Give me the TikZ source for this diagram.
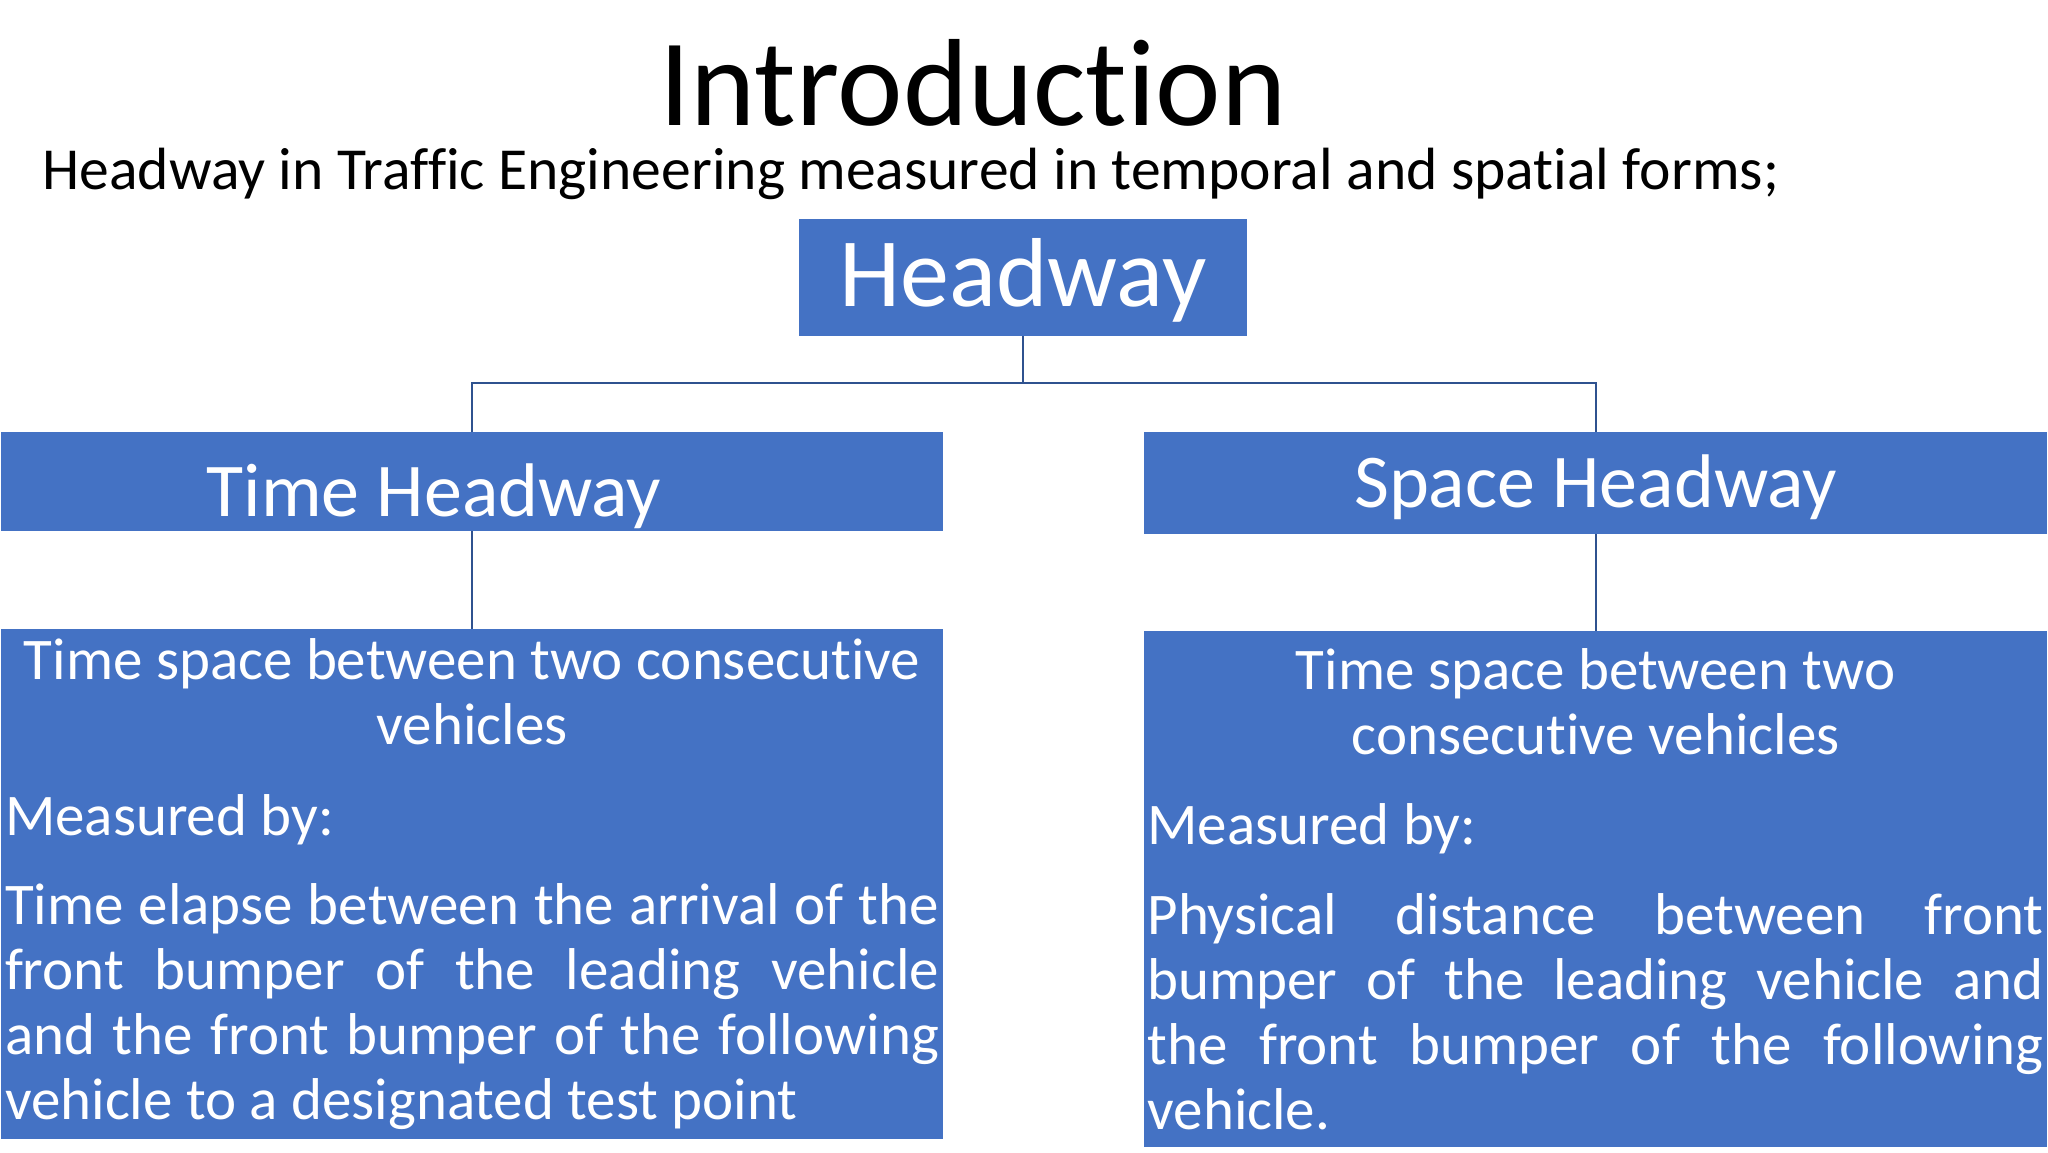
\documentclass[tikz,border=0pt]{standalone}
\usepackage{fontspec}
\setmainfont{Carlito}[Ligatures=NoCommon]
\definecolor{boxblue}{HTML}{4472C4}
\definecolor{lineblue}{HTML}{2F528F}

\begin{document}
\begin{tikzpicture} [
    x=0.5pt, y=-0.5pt,
    box/.style = {fill=boxblue, text=white, inner sep=0pt, outer sep=0pt},
    conn/.style = {lineblue, line width=1pt},
    desc/.style = {box, align=justify, font=\fontsize{29.5}{32.5}\selectfont,
        execute at begin node=\setlength{\parindent}{0pt}}
]
    \useasboundingbox (0,0) rectangle (2048,1152);

    \node[anchor=base, inner sep=0pt, font=\fontsize{62}{70}\selectfont] (title) at (973,125) {Introduction};
    \node[anchor=base west, inner sep=0pt, font=\fontsize{29.8}{35}\selectfont] (subtitle) at (42,189)
        {Headway in Traffic Engineering measured in temporal and spatial forms;};

    % top box and the two kinds
    \node[box, minimum width=224pt, minimum height=58.5pt, text height=35pt, text depth=6pt,
        font=\fontsize{49}{55}\selectfont] (headbox) at (1023,277.5) {Headway};
    \node[box, minimum width=471pt, minimum height=49.5pt, text height=40pt, text depth=5.5pt,
        font=\fontsize{38}{44}\selectfont] (timebox) at (472,481.5) {Time Headway\hspace*{38pt}};
    \node[box, minimum width=451.5pt, minimum height=51pt, text height=30pt, text depth=6pt,
        font=\fontsize{38}{44}\selectfont] (spacebox) at (1595.5,483) {Space Headway};

    \node[desc, minimum width=471pt, minimum height=255pt, text width=467pt] (timedesc) at (472,884) {
        {\centering Time space between two consecutive\\ vehicles\par}
        \vspace{13pt}
        Measured by:\par
        \vspace{12pt}
        Time elapse between the arrival of the\linebreak
        front bumper of the leading vehicle\linebreak
        and the front bumper of the following\linebreak
        vehicle to a designated test point};

    \node[desc, minimum width=451.5pt, minimum height=258pt, text width=448pt] (spacedesc) at (1595.5,889) {
        {\centering Time space between two\\ consecutive vehicles\par}
        \vspace{12.5pt}
        Measured by:\par
        \vspace{12.5pt}
        Physical distance between front\linebreak
        bumper of the leading vehicle and\linebreak
        the front bumper of the following\linebreak
        vehicle.};

    % connectors
    \coordinate (fork) at (1023,383);
    \draw[conn] (headbox.south) -- (fork) -| (timebox.north);
    \draw[conn] (fork) -| (spacebox.north);
    \draw[conn] (timebox.south) -- (timedesc.north);
    \draw[conn] (spacebox.south) -- (spacedesc.north);
\end{tikzpicture}
\end{document}
